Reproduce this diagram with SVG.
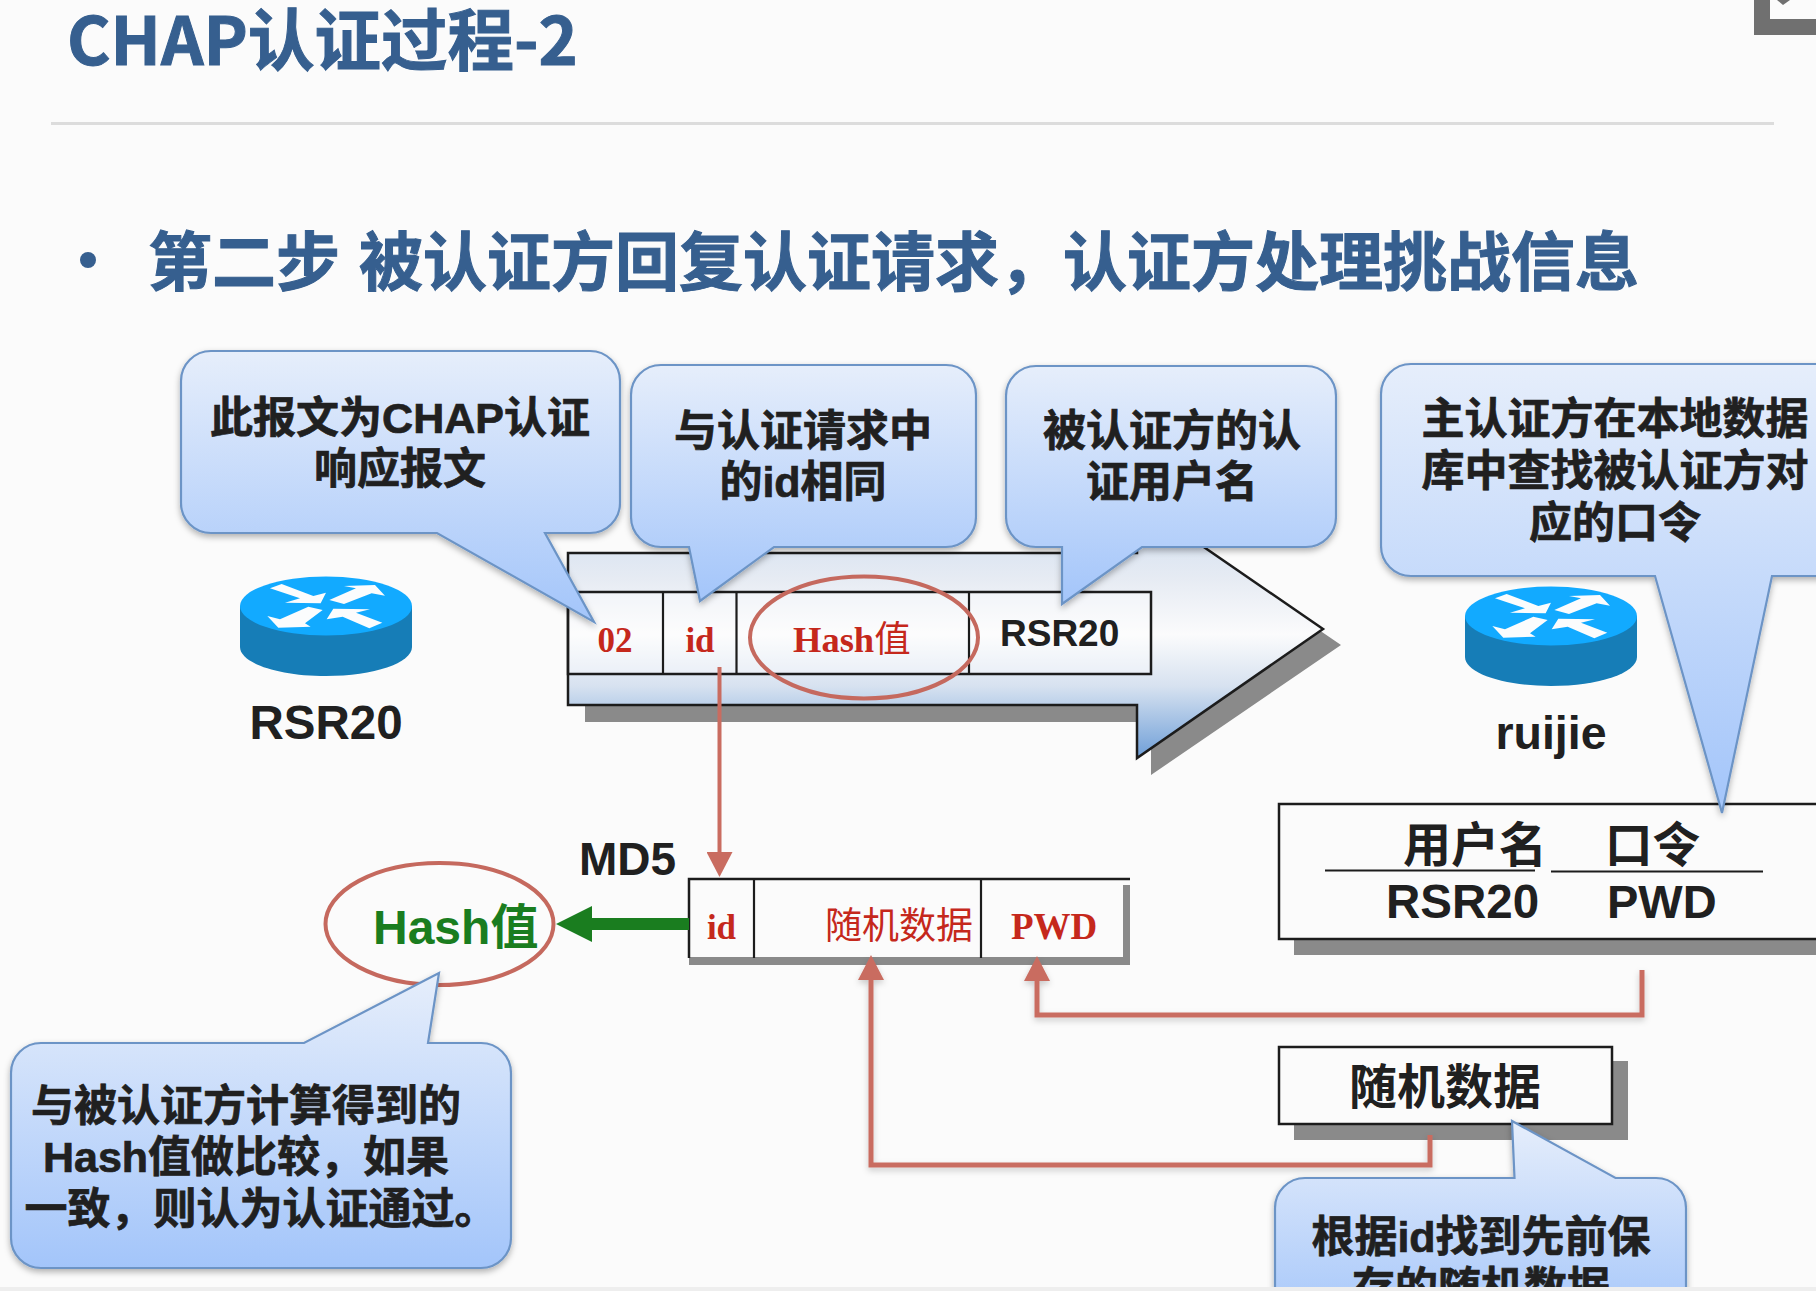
<svg xmlns="http://www.w3.org/2000/svg" xmlns:xlink="http://www.w3.org/1999/xlink" width="1816" height="1291" viewBox="0 0 1816 1291">
<style>
text{font-family:"Liberation Sans","Noto Sans CJK SC",sans-serif;font-weight:700;fill:#202020}
.title{font-family:"Noto Sans CJK SC",sans-serif;fill:#365f8f;stroke:#365f8f;stroke-width:1}
.ctr{text-anchor:middle}
.c{font-size:43px;text-anchor:middle;stroke:#202020;stroke-width:.7}
.red{font-family:"Liberation Serif","Noto Sans CJK SC",serif;fill:#c5281c;font-size:35px}
.redcjk{font-family:"Noto Sans CJK SC",sans-serif;font-weight:400}
.bubble{fill:url(#bub);stroke:#6c94c6;stroke-width:2.2;filter:url(#sh)}
.box{fill:#fbfbfb;stroke:#1c1c1c;stroke-width:2.5}
.shadow{fill:#8a8a8a}
.ln{fill:none;stroke:#1c1c1c;stroke-width:2.2}
.rl{fill:none;stroke:#c96c60}
.oval{fill:none;stroke:#c5695e;stroke-width:4}
</style>
<defs>
<linearGradient id="bub" x1="0" y1="0" x2="0" y2="1"><stop offset="0" stop-color="#e6eefb"/><stop offset="1" stop-color="#a3c5fa"/></linearGradient>
<linearGradient id="arr" x1="0" y1="0" x2="0" y2="1"><stop offset="0" stop-color="#ccdcf0"/><stop offset=".3" stop-color="#e6ebf3"/><stop offset=".52" stop-color="#fbfbfc"/><stop offset=".72" stop-color="#d7e2f0"/><stop offset="1" stop-color="#6f9fd8"/></linearGradient>
<filter id="sh" x="-5%" y="-5%" width="110%" height="112%"><feDropShadow dx="0" dy="3" stdDeviation="3" flood-color="#000" flood-opacity=".3"/></filter>
<filter id="shl" x="-5%" y="-40%" width="110%" height="180%"><feDropShadow dx="0" dy="3" stdDeviation="3" flood-color="#000" flood-opacity=".2"/></filter>
<marker id="rh" markerUnits="userSpaceOnUse" markerWidth="26" markerHeight="26" refX="0" refY="13" orient="auto"><path d="M0,0L25,13L0,26Z" fill="#c96c60"/></marker>
<marker id="gh" markerUnits="userSpaceOnUse" markerWidth="36" markerHeight="36" refX="0" refY="18" orient="auto"><path d="M0,0L36,18L0,36Z" fill="#1a7d1f"/></marker>
<g id="router">
<path d="M240,606V647C240,663 278,676 326,676C374,676 412,663 412,647V606Z" fill="#167db7"/>
<ellipse cx="326" cy="606" rx="86" ry="29.5" fill="#12aaff"/>
<g transform="translate(220,560) scale(.3333)" fill="#fbfcfd">
<polygon points="150,85 185,72 280,108 318,98 302,130 195,128 240,115"/>
<polygon points="328,120 408,85 372,78 465,75 495,107 455,100 372,132"/>
<polygon points="308,150 255,190 272,200 175,203 142,168 180,178 265,140"/>
<polygon points="320,178 340,146 450,148 408,158 487,188 448,205 368,170"/>
</g>
</g>
</defs>
<rect width="1816" height="1291" fill="#fbfbfb"/>

<g id="header">
<text class="title" x="67" y="65" font-size="66.500">CHAP认证过程-2</text>
<rect x="51" y="122" width="1723" height="3" fill="#dcdcdc"/>
<path d="M1754,0H1770V19H1816V35H1754Z" fill="#707070"/>
<path d="M1777,0H1790L1783,5Z" fill="#707070"/>
<ellipse cx="88" cy="260" rx="8" ry="8" fill="#365f8f"/>
<text class="title" x="148" y="285" font-size="64">第二步<tspan x="359">被认证方回复认证请求，</tspan><tspan x="1063">认证方处理挑战信息</tspan></text>
</g>

<g id="router-rsr20">
<use xlink:href="#router" href="#router"/>
<text class="ctr" x="326" y="739" font-size="47.500">RSR20</text>
</g>
<g id="router-ruijie">
<use xlink:href="#router" href="#router" transform="translate(1225,10)"/>
<text class="ctr" x="1551" y="749" font-size="46.500">ruijie</text>
</g>

<g id="packet">
<polygon class="shadow" points="585,569 1154,569 1154,517 1341,645 1151,775 1151,722 585,722"/>
<polygon points="568,553 1137,553 1137,501 1323,629 1137,758 1137,705 568,705" fill="url(#arr)" stroke="#1c1c1c" stroke-width="2.500"/>
<rect x="568" y="592" width="583" height="82" fill="#ffffff" fill-opacity=".35" stroke="#1c1c1c" stroke-width="2.500"/>
<path class="ln" d="M663,592V674M736.500,592V674M969,592V674"/>
<text class="red ctr" x="615" y="652">02</text>
<text class="red ctr" x="700" y="652">id</text>
<text class="red" x="793" y="652" style="font-size:36.500px">Hash<tspan class="redcjk">值</tspan></text>
<ellipse class="oval" cx="864" cy="637.500" rx="114" ry="61"/>
<text x="1000" y="646" font-size="37">RSR20</text>
</g>

<g id="user-table">
<rect class="shadow" x="1294" y="820" width="530" height="135"/>
<rect class="box" x="1279" y="804" width="545" height="135"/>
<text x="1403" y="862" font-size="48">用户名</text>
<text x="1605" y="862" font-size="47.500">口令</text>
<path class="ln" d="M1325,870.500H1535M1551,871.500H1763" stroke-width="2.500"/>
<text x="1386" y="918" font-size="47.500">RSR20</text>
<text x="1607" y="918" font-size="47">PWD</text>
</g>

<g id="random-box">
<rect class="shadow" x="1294" y="1061" width="334" height="79"/>
<rect class="box" x="1279" y="1047" width="333" height="77"/>
<text class="ctr" x="1445" y="1104" font-size="48">随机数据</text>
</g>

<g id="md5-table">
<text x="579" y="875" font-size="46">MD5</text>
<rect class="shadow" x="689" y="885" width="441" height="80"/>
<rect x="689" y="878" width="434" height="79" fill="#fbfbfb"/>
<path d="M689,958V879H1130" fill="none" stroke="#1c1c1c" stroke-width="2.500"/>
<path class="ln" d="M754,879V958M981,879V958"/>
<text class="red ctr" x="721.500" y="939">id</text>
<text class="red redcjk" x="825" y="939" style="font-size:37px">随机数据</text>
<text class="red" x="1011" y="939" style="font-size:37px">PWD</text>
</g>

<g id="hash-result">
<ellipse class="oval" cx="439.500" cy="924" rx="114" ry="61"/>
<text x="373" y="944" font-size="48" style="fill:#1a7d1f">Hash值</text>
</g>

<g id="connectors">
<path class="rl" stroke-width="4" d="M719.500,667V852" marker-end="url(#rh)"/>
<path class="rl" stroke-width="5" d="M1430,1135V1165H871V980" marker-end="url(#rh)" filter="url(#shl)"/>
<path class="rl" stroke-width="5" d="M1642,970V1015H1037V981" marker-end="url(#rh)" filter="url(#shl)"/>
<path d="M689,924H592" fill="none" stroke="#1a7d1f" stroke-width="12" marker-end="url(#gh)"/>
</g>

<g id="callout-1">
<path class="bubble" d="M211,351H590A30,30 0 0 1 620,381V503A30,30 0 0 1 590,533H545L594,622L437,533H211A30,30 0 0 1 181,503V381A30,30 0 0 1 211,351Z"/>
<text class="c" x="400" y="433">此报文为CHAP认证</text>
<text class="c" x="400" y="484">响应报文</text>
</g>
<g id="callout-2">
<path class="bubble" d="M661,365H946A30,30 0 0 1 976,395V517A30,30 0 0 1 946,547H774L700,601L689,547H661A30,30 0 0 1 631,517V395A30,30 0 0 1 661,365Z"/>
<text class="c" x="803" y="446">与认证请求中</text>
<text class="c" x="803" y="497">的id相同</text>
</g>
<g id="callout-3">
<path class="bubble" d="M1036,366H1306A30,30 0 0 1 1336,396V517A30,30 0 0 1 1306,547H1142L1062,604V547H1036A30,30 0 0 1 1006,517V396A30,30 0 0 1 1036,366Z"/>
<text class="c" x="1172" y="446">被认证方的认</text>
<text class="c" x="1172" y="497">证用户名</text>
</g>
<g id="callout-4">
<path class="bubble" d="M1411,364H1830V576H1772L1722,813L1655,576H1411A30,30 0 0 1 1381,546V394A30,30 0 0 1 1411,364Z"/>
<text class="c" x="1615" y="434">主认证方在本地数据</text>
<text class="c" x="1615" y="486">库中查找被认证方对</text>
<text class="c" x="1615" y="538">应的口令</text>
</g>
<g id="callout-5">
<path class="bubble" d="M41,1043H304L439,973L428,1043H481A30,30 0 0 1 511,1073V1238A30,30 0 0 1 481,1268H41A30,30 0 0 1 11,1238V1073A30,30 0 0 1 41,1043Z"/>
<text class="c" x="246" y="1121">与被认证方计算得到的</text>
<text class="c" x="246" y="1172">Hash值做比较，如果</text>
<text class="c" x="261" y="1224">一致，则认为认证通过。</text>
</g>
<g id="callout-6">
<path class="bubble" d="M1305,1178H1514.500L1512,1121L1615.500,1178H1656A30,30 0 0 1 1686,1208V1330H1275V1208A30,30 0 0 1 1305,1178Z"/>
<text class="c" x="1481" y="1252">根据id找到先前保</text>
<text class="c" x="1481" y="1303">存的随机数据</text>
</g>
<rect id="bottom-strip" x="0" y="1287" width="1816" height="4" fill="#eeeeee"/>
</svg>
